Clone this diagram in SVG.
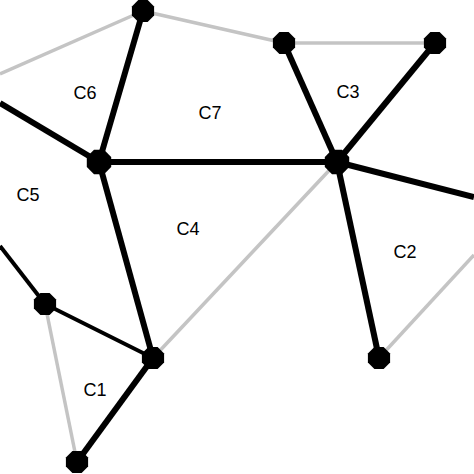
<svg xmlns="http://www.w3.org/2000/svg" xmlns:xlink="http://www.w3.org/1999/xlink" width="474" height="474" viewBox="0 0 474 474">
<style>
.g{stroke:#c4c4c4;stroke-width:3.5;fill:none;stroke-linecap:butt}
.k{stroke:#000;stroke-width:6;fill:none}
.t{stroke:#000;stroke-width:4;fill:none}
.lb{font-family:"Liberation Sans",Arial,sans-serif;font-size:18px;fill:#000;text-anchor:middle}
</style>
<defs>
<polygon id="oct" points="4.6,-11.1 11.1,-4.6 11.1,4.6 4.6,11.1 -4.6,11.1 -11.1,4.6 -11.1,-4.6 -4.6,-11.1" fill="#000"/>
<polygon id="octL" points="5,-12.2 12.2,-5 12.2,5 5,12.2 -5,12.2 -12.2,5 -12.2,-5 -5,-12.2" fill="#000"/>
</defs>
<rect width="474" height="474" fill="#fff"/>
<g id="connectors">
<line class="g" x1="143" y1="11" x2="0" y2="74"/>
<line class="g" x1="143" y1="11" x2="284" y2="43"/>
<line class="g" x1="284" y1="43" x2="435" y2="43"/>
<line class="g" x1="337" y1="162" x2="153" y2="358"/>
<line class="g" x1="379" y1="358" x2="474" y2="255"/>
<line class="g" x1="45" y1="304" x2="77" y2="462"/>
<line class="k" x1="284" y1="43" x2="337" y2="162"/>
<line class="k" x1="435" y1="43" x2="337" y2="162"/>
<line class="k" x1="143" y1="11" x2="99" y2="162"/>
<line class="k" x1="0" y1="103" x2="99" y2="162"/>
<line class="k" x1="99" y1="162" x2="337" y2="162"/>
<line class="k" x1="337" y1="162" x2="474" y2="197"/>
<line class="k" x1="337" y1="162" x2="379" y2="358"/>
<line class="k" x1="99" y1="162" x2="153" y2="358"/>
<line class="k" x1="153" y1="358" x2="77" y2="462"/>
<line class="t" x1="0" y1="246" x2="45" y2="304"/>
<line class="t" x1="45" y1="304" x2="153" y2="358"/>
</g>
<g id="n1"><use xlink:href="#oct" x="143" y="11"/></g>
<g id="n2"><use xlink:href="#octL" x="99" y="162"/></g>
<g id="n3"><use xlink:href="#oct" x="284" y="43"/></g>
<g id="n4"><use xlink:href="#oct" x="435" y="43"/></g>
<g id="n5"><use xlink:href="#octL" x="337" y="162"/></g>
<g id="n6"><use xlink:href="#oct" x="45" y="304"/></g>
<g id="n7"><use xlink:href="#oct" x="153" y="358"/></g>
<g id="n8"><use xlink:href="#oct" x="77" y="462"/></g>
<g id="n9"><use xlink:href="#oct" x="379" y="358"/></g>
<g id="labels">
<text class="lb" x="85" y="99">C6</text>
<text class="lb" x="210" y="119">C7</text>
<text class="lb" x="348" y="98">C3</text>
<text class="lb" x="28" y="201">C5</text>
<text class="lb" x="188" y="235">C4</text>
<text class="lb" x="405" y="258">C2</text>
<text class="lb" x="95" y="396">C1</text>
</g>
</svg>
